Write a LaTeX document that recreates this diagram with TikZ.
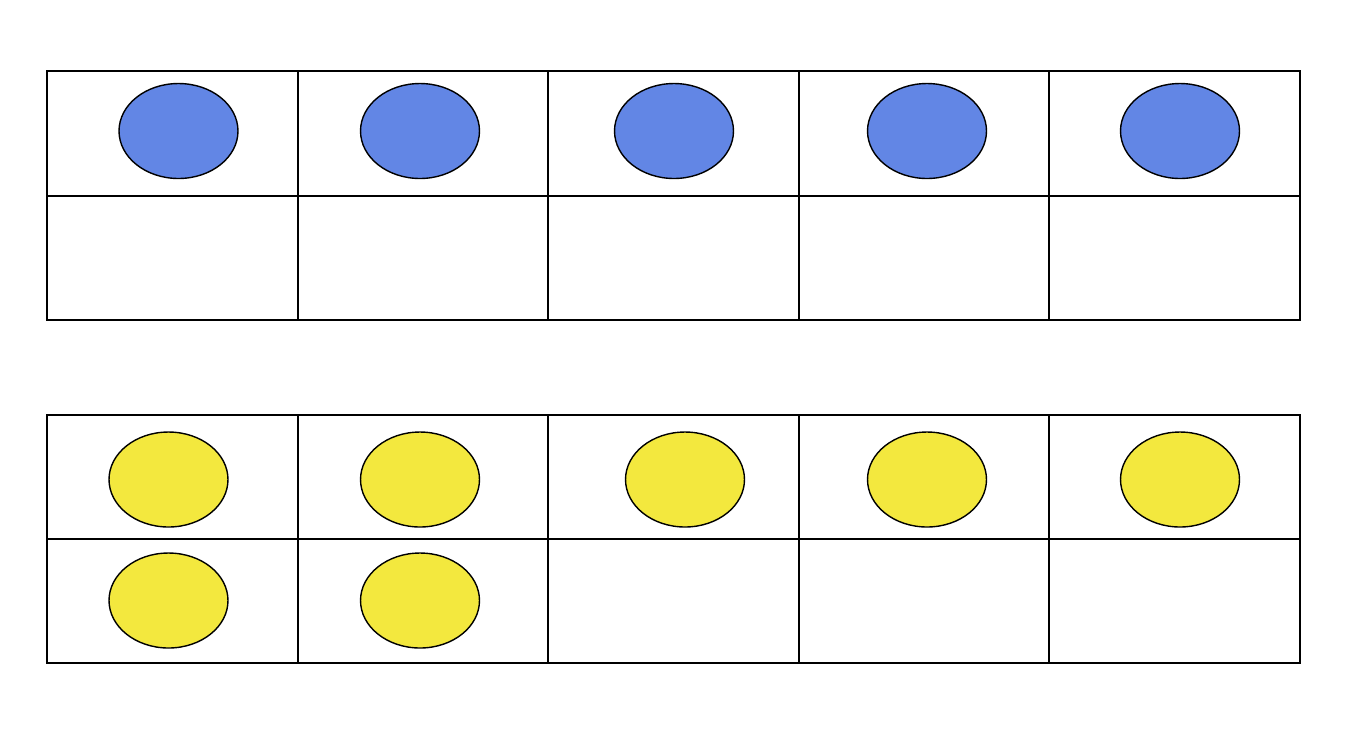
\documentclass[tikz,border=0pt]{standalone}
\usepackage{tikz}
\usetikzlibrary{shapes}
\definecolor{counterblue}{HTML}{6286E5}
\definecolor{counteryellow}{HTML}{F3E83E}
\tikzset{
	frame/.style = {draw = black, line width = 0.8pt},
	counter/.style = {draw = black, ellipse, line width = 0.8pt, minimum width = 2.38cm, minimum height = 1.9cm, inner sep = 0mm},
	blue counter/.style = {counter, fill = counterblue},
	yellow counter/.style = {counter, fill = counteryellow}
}

\begin{document}
\begin{tikzpicture}[x = 0.02cm, y = -0.02cm]
			\useasboundingbox (0,0) rectangle (1372,752);
			% top frame
			\draw [frame] (47,71) rectangle (1300,320);
			\draw [frame] (47,196) -- (1300,196);
			\foreach \x in {298,548,799,1049}
				\draw [frame] (\x,71) -- (\x,320);
			% bottom frame
			\draw [frame] (47,415) rectangle (1300,663);
			\draw [frame] (47,539) -- (1300,539);
			\foreach \x in {298,548,799,1049}
				\draw [frame] (\x,415) -- (\x,663);

			\foreach \x [count = \i] in {178.5,420,674,927,1180}
				\node [blue counter] (blue\i) at (\x,131) {};
			\foreach \x [count = \i] in {168.5,420,685,927,1180}
				\node [yellow counter] (yellow\i) at (\x,479.5) {};
			\node [yellow counter] (yellow6) at (168.5,600.5) {};
			\node [yellow counter] (yellow7) at (420,600.5) {};
		\end{tikzpicture}
\end{document}
